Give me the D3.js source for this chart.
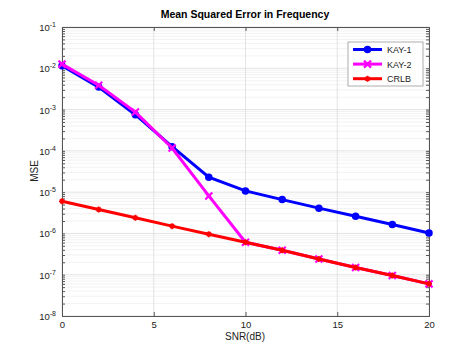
<!DOCTYPE html>
<html><head><meta charset="utf-8">
<script src="https://cdn.jsdelivr.net/npm/d3@7"></script>
<style>body{margin:0;background:#fff;} text{font-family:"Liberation Sans",Arial,sans-serif;}</style>
</head><body><svg id="c" width="474" height="355"></svg>
<script>
const snr = [0,2,4,6,8,10,12,14,16,18,20];
const kay1 = [1.15e-2,3.5e-3,7.5e-4,1.26e-4,2.3e-5,1.07e-5,6.6e-6,4.1e-6,2.6e-6,1.65e-6,1.02e-6];
const kay2 = [1.26e-2,3.9e-3,8.7e-4,1.17e-4,8.1e-6,6.1e-7,3.9e-7,2.4e-7,1.5e-7,9.6e-8,6.0e-8];
const crlb = [6.0e-6,3.8e-6,2.4e-6,1.5e-6,9.6e-7,6.1e-7,3.9e-7,2.4e-7,1.5e-7,9.6e-8,6.0e-8];
const xTicks = [0,5,10,15,20];
const yExps = [-8,-7,-6,-5,-4,-3,-2,-1];
const seriesNames = ["KAY-1","KAY-2","CRLB"];

const svg = d3.select("#c");
const L=62,R=429,T=27,B=316;
const x = d3.scaleLinear().domain([0,20]).range([L,R]);
const y = d3.scaleLog().domain([1e-8,1e-1]).range([B,T]);

// minor grid
const minors=[];
for(let e=-8;e<-1;e++) for(let m=2;m<=9;m++) minors.push(m*Math.pow(10,e));
const g = svg.append("g");
g.selectAll(".mg").data(minors).enter().append("line")
  .attr("x1",L).attr("x2",R).attr("y1",d=>y(d)).attr("y2",d=>y(d))
  .attr("stroke","#ececec").attr("stroke-width",0.7);
g.selectAll(".yg").data(yExps).enter().append("line")
  .attr("x1",L).attr("x2",R).attr("y1",d=>y(Math.pow(10,d))).attr("y2",d=>y(Math.pow(10,d)))
  .attr("stroke","#dcdcdc").attr("stroke-width",0.8);
g.selectAll(".xg").data(xTicks).enter().append("line")
  .attr("y1",T).attr("y2",B).attr("x1",d=>x(d)).attr("x2",d=>x(d))
  .attr("stroke","#dcdcdc").attr("stroke-width",0.8);

// axes
const ax = d3.axisBottom(x).tickValues(xTicks).tickSize(-4).tickPadding(5).tickFormat(d3.format("d"));
const xa = svg.append("g").attr("transform",`translate(0,${B})`).call(ax);
const xt = svg.append("g").attr("transform",`translate(0,${T})`).call(d3.axisTop(x).tickValues(xTicks).tickSize(-4).tickFormat(""));
const ay = d3.axisLeft(y).tickValues(minors.concat(yExps.map(e=>Math.pow(10,e)))).tickSize(-3).tickFormat("");
const ya = svg.append("g").attr("transform",`translate(${L},0)`).call(ay);
const yr = svg.append("g").attr("transform",`translate(${R},0)`).call(d3.axisRight(y).tickValues(minors.concat(yExps.map(e=>Math.pow(10,e)))).tickSize(-3).tickFormat(""));
[xa,xt,ya,yr].forEach(a=>{a.selectAll("path,line").attr("stroke","#555");a.select(".domain").attr("stroke-width",1);});
xa.selectAll("text").attr("fill","#222").attr("font-size",9.5);
// y labels
const yl = svg.append("g");
yExps.forEach(e=>{
  const t = yl.append("text").attr("x",L-6).attr("y",y(Math.pow(10,e))+4).attr("text-anchor","end")
    .attr("font-size",9.5).attr("fill","#222");
  t.append("tspan").text("10");
  t.append("tspan").attr("dy",-4).attr("font-size",7).text(String(e));
});

// title & labels
svg.append("text").attr("x",245).attr("y",18).attr("text-anchor","middle").attr("font-weight","bold")
  .attr("font-size",10.5).attr("fill","#000").text("Mean Squared Error in Frequency");
svg.append("text").attr("x",245).attr("y",340).attr("text-anchor","middle").attr("font-size",10).attr("fill","#222").text("SNR(dB)");
svg.append("text").attr("transform","translate(38,171) rotate(-90)").attr("text-anchor","middle").attr("font-size",10).attr("fill","#222").text("MSE");

const line = d3.line().x(d=>x(d[0])).y(d=>y(d[1]));
const series = [
  {name:seriesNames[0],vals:kay1,color:"#0000ff",marker:"circle"},
  {name:seriesNames[1],vals:kay2,color:"#ff00ff",marker:"x"},
  {name:seriesNames[2],vals:crlb,color:"#ff0000",marker:"plus"}
];
function drawMarker(sel,m,color){
  if(m==="circle") sel.append("circle").attr("r",3).attr("fill",color).attr("stroke",color).attr("stroke-width",1.5);
  else if(m==="x") { sel.append("path").attr("d","M-3.5,-3.5L3.5,3.5M-3.5,3.5L3.5,-3.5").attr("stroke",color).attr("stroke-width",2.2);
    sel.append("rect").attr("x",-2).attr("y",-2).attr("width",4).attr("height",4).attr("fill",color);}
  else { sel.append("path").attr("d","M-3,0L3,0M0,-3L0,3M-2,-2L2,2M-2,2L2,-2").attr("stroke",color).attr("stroke-width",1.6);}
}
const pg = svg.append("g");
series.forEach(s=>{
  const pts = snr.map((v,i)=>[v,s.vals[i]]);
  pg.append("path").datum(pts).attr("d",line).attr("fill","none").attr("stroke",s.color).attr("stroke-width",3);
  pts.forEach(p=>{ const m = pg.append("g").attr("transform",`translate(${x(p[0])},${y(p[1])})`); drawMarker(m,s.marker,s.color); });
});

// legend
const lg = svg.append("g");
lg.append("rect").attr("x",348).attr("y",42).attr("width",75).attr("height",44).attr("fill","#fff").attr("stroke","#999").attr("stroke-width",0.8);
series.forEach((s,i)=>{
  const yy = 49.5 + i*14.6;
  lg.append("line").attr("x1",353).attr("x2",382).attr("y1",yy).attr("y2",yy).attr("stroke",s.color).attr("stroke-width",3);
  drawMarker(lg.append("g").attr("transform",`translate(367.5,${yy})`),s.marker,s.color);
  lg.append("text").attr("x",387).attr("y",yy+3.5).attr("font-size",9).attr("fill","#222").text(s.name);
});
</script></body></html>
